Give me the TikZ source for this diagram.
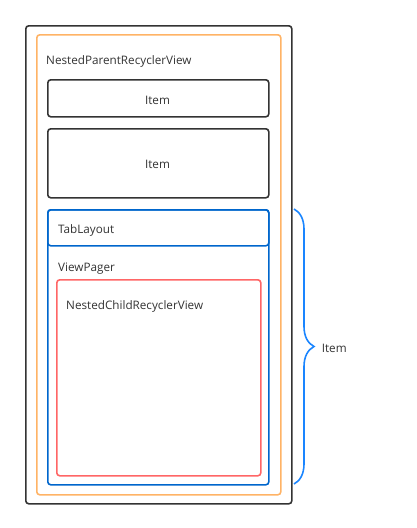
\documentclass[tikz,border=0pt]{standalone}
\usepackage{fontspec}
\setmainfont{Open Sans}
\usetikzlibrary{decorations.pathreplacing}

\definecolor{framegrey}{HTML}{333333}
\definecolor{parentorange}{HTML}{FFB366}
\definecolor{pagerblue}{HTML}{0066CC}
\definecolor{childred}{HTML}{FF6666}
\definecolor{braceblue}{HTML}{1A85FF}

\tikzset{
    frame/.style={draw, rounded corners=3pt, line width=1.6pt, anchor=north west, inner sep=0pt},
    label/.style={anchor=base west, inner sep=0pt, text=framegrey}
}

\begin{document}
\begin{tikzpicture}[x=1pt, y=-1pt, font=\fontsize{11.7}{14}\selectfont]

    \useasboundingbox (0,0) rectangle (416,528);

    \node[frame, draw=framegrey, minimum width=266pt, minimum height=478pt] (screen) at (25,25) {};
    \node[frame, draw=parentorange, minimum width=244pt, minimum height=460pt] (parent) at (36,34) {};
    \node[label] (parentname) at (46,64) {NestedParentRecyclerView};

    \node[frame, draw=framegrey, minimum width=221pt, minimum height=37pt] (item1) at (47,79) {};
    \node[frame, draw=framegrey, minimum width=221pt, minimum height=69pt] (item2) at (47,128) {};
    \node[label, anchor=base] (item1name) at (157.5,104) {Item};
    \node[label, anchor=base] (item2name) at (157.5,168) {Item};

    \node[frame, draw=pagerblue, minimum width=221pt, minimum height=275pt] (pager) at (47,209) {};
    \node[frame, draw=pagerblue, minimum width=221pt, minimum height=36pt] (tab) at (47,209) {};
    \node[label] (tabname) at (58,233) {TabLayout};
    \node[label] (pagername) at (58,271.5) {ViewPager};

    \node[frame, draw=childred, minimum width=204pt, minimum height=196pt] (child) at (56,279) {};
    \node[label] (childname) at (66,309) {NestedChildRecyclerView};

    \coordinate (bracetop) at (294,209);
    \coordinate (bracebottom) at (294,484);
    \draw[braceblue, line width=1.6pt, decorate, decoration={brace, amplitude=20pt}]
        (bracetop) -- node[label, anchor=west, xshift=27pt, yshift=-2pt] (itemname) {Item} (bracebottom);

\end{tikzpicture}
\end{document}
